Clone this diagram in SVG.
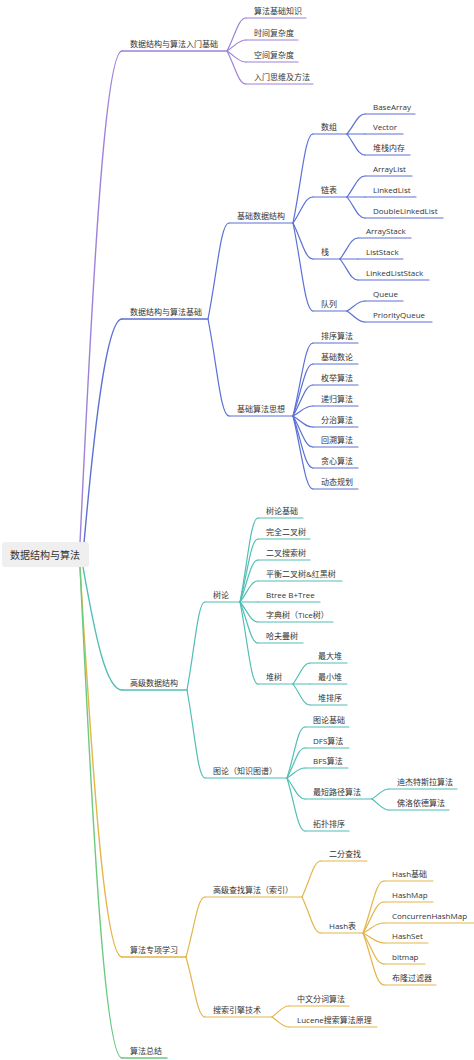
<svg xmlns="http://www.w3.org/2000/svg" width="474" height="1060" viewBox="0 0 474 1060">
<style>
text{font-family:"Open Sans","Noto Sans CJK SC",sans-serif;font-size:8px;fill:#333}
.root{font-size:10px}
path,line{fill:none;stroke-width:1.2;stroke-linecap:round}
.l1{stroke-width:1.4}
.p{stroke:#9d82d9}.b{stroke:#5c70d6}.tl{stroke:#52beb6}.g{stroke:#e3b54a}.gr{stroke:#6cc980}
</style>
<rect width="474" height="1060" fill="#fff"/>
<g id="connectors">
<path class="p l1" d="M80,543 C93,272 105,51 122,51"/>
<path class="b l1" d="M84,543 C95,420 107,319 122,319"/>
<path class="tl l1" d="M83,567 C95,635 106,690 122,690"/>
<path class="g l1" d="M80,567 C93,782 105,957 122,957"/>
<path class="gr l1" d="M80,567 C93,837 105,1058 122,1058"/>
<path class="p" d="M227,51 C235.6,34.5 238.4,18 246,18"/>
<path class="p" d="M227,51 C235.6,45.5 238.4,40 246,40"/>
<path class="p" d="M227,51 C235.6,56.5 238.4,62 246,62"/>
<path class="p" d="M227,51 C235.6,67.5 238.4,84 246,84"/>
<path class="b" d="M208,319 C217.5,271 220.6,223 229,223"/>
<path class="b" d="M208,319 C217.5,367.5 220.6,416 229,416"/>
<path class="b" d="M293,223 C302,178.5 305,134 313,134"/>
<path class="b" d="M293,223 C302,210 305,197 313,197"/>
<path class="b" d="M293,223 C302,241 305,259 313,259"/>
<path class="b" d="M293,223 C302,267 305,311 313,311"/>
<path class="b" d="M347,134 C355.1,124 357.8,114 365,114"/>
<path class="b" d="M347,134 L365,134"/>
<path class="b" d="M347,134 C355.1,144.5 357.8,155 365,155"/>
<path class="b" d="M347,197 C355.1,186.5 357.8,176 365,176"/>
<path class="b" d="M347,197 L365,197"/>
<path class="b" d="M347,197 C355.1,207.5 357.8,218 365,218"/>
<path class="b" d="M340,259 C348.1,248.5 350.8,238 358,238"/>
<path class="b" d="M340,259 L358,259"/>
<path class="b" d="M340,259 C348.1,269.5 350.8,280 358,280"/>
<path class="b" d="M347,311 C355.1,306 357.8,301 365,301"/>
<path class="b" d="M347,311 C355.1,316.5 357.8,322 365,322"/>
<path class="b" d="M293,416 C302,379.5 305,343 313,343"/>
<path class="b" d="M293,416 C302,390 305,364 313,364"/>
<path class="b" d="M293,416 C302,400.5 305,385 313,385"/>
<path class="b" d="M293,416 C302,411 305,406 313,406"/>
<path class="b" d="M293,416 C302,421.5 305,427 313,427"/>
<path class="b" d="M293,416 C302,431.5 305,447 313,447"/>
<path class="b" d="M293,416 C302,442 305,468 313,468"/>
<path class="b" d="M293,416 C302,452.5 305,489 313,489"/>
<path class="tl" d="M187,690 C195.1,646 197.8,602 205,602"/>
<path class="tl" d="M187,690 C195.1,734 197.8,778 205,778"/>
<path class="tl" d="M240,602 C248.1,560 250.8,518 258,518"/>
<path class="tl" d="M240,602 C248.1,570.5 250.8,539 258,539"/>
<path class="tl" d="M240,602 C248.1,581 250.8,560 258,560"/>
<path class="tl" d="M240,602 C248.1,591.5 250.8,581 258,581"/>
<path class="tl" d="M240,602 L258,602"/>
<path class="tl" d="M240,602 C248.1,612 250.8,622 258,622"/>
<path class="tl" d="M240,602 C248.1,622.5 250.8,643 258,643"/>
<path class="tl" d="M240,602 C248.1,643 250.8,684 258,684"/>
<path class="tl" d="M293,684 C300.7,673.5 303.2,663 310,663"/>
<path class="tl" d="M293,684 L310,684"/>
<path class="tl" d="M293,684 C300.7,694.5 303.2,705 310,705"/>
<path class="tl" d="M287,778 C295.1,752.5 297.8,727 305,727"/>
<path class="tl" d="M287,778 C295.1,763 297.8,748 305,748"/>
<path class="tl" d="M287,778 C295.1,773 297.8,768 305,768"/>
<path class="tl" d="M287,778 C295.1,788.5 297.8,799 305,799"/>
<path class="tl" d="M287,778 C295.1,804.5 297.8,831 305,831"/>
<path class="tl" d="M372,799 C379.7,794 382.2,789 389,789"/>
<path class="tl" d="M372,799 C379.7,804.5 382.2,810 389,810"/>
<path class="g" d="M186,957 C194.6,927 197.4,897 205,897"/>
<path class="g" d="M186,957 C194.6,987 197.4,1017 205,1017"/>
<path class="g" d="M302,897 C310.6,879 313.4,861 321,861"/>
<path class="g" d="M302,897 C310.6,915 313.4,933 321,933"/>
<path class="g" d="M363,933 C372.5,907 375.6,881 384,881"/>
<path class="g" d="M363,933 C372.5,917.5 375.6,902 384,902"/>
<path class="g" d="M363,933 C372.5,928 375.6,923 384,923"/>
<path class="g" d="M363,933 C372.5,938 375.6,943 384,943"/>
<path class="g" d="M363,933 C372.5,948.5 375.6,964 384,964"/>
<path class="g" d="M363,933 C372.5,959 375.6,985 384,985"/>
<path class="g" d="M272,1017 C279.7,1011.5 282.2,1006 289,1006"/>
<path class="g" d="M272,1017 C279.7,1022 282.2,1027 289,1027"/>
</g>
<g id="root"><rect x="2" y="542" width="87" height="25" rx="3" fill="#efefef"/><text class="root" x="10" y="558.5">数据结构与算法</text></g>
<g id="n1"><line class="p l1" x1="122" y1="51" x2="227" y2="51"/><text x="130" y="46.5">数据结构与算法入门基础</text></g>
<g id="n1a"><line class="p" x1="246" y1="18" x2="306" y2="18"/><text x="254" y="13.5">算法基础知识</text></g>
<g id="n1b"><line class="p" x1="246" y1="40" x2="298" y2="40"/><text x="254" y="35.5">时间复杂度</text></g>
<g id="n1c"><line class="p" x1="246" y1="62" x2="298" y2="62"/><text x="254" y="57.5">空间复杂度</text></g>
<g id="n1d"><line class="p" x1="246" y1="84" x2="313" y2="84"/><text x="254" y="79.5">入门思维及方法</text></g>
<g id="n2"><line class="b l1" x1="122" y1="319" x2="208" y2="319"/><text x="130" y="314.5">数据结构与算法基础</text></g>
<g id="n2a"><line class="b" x1="229" y1="223" x2="293" y2="223"/><text x="237" y="218.5">基础数据结构</text></g>
<g id="n2a1"><line class="b" x1="313" y1="134" x2="347" y2="134"/><text x="321" y="129.5">数组</text></g>
<g id="n2a1a"><line class="b" x1="365" y1="114" x2="415" y2="114"/><text x="373" y="109.5">BaseArray</text></g>
<g id="n2a1b"><line class="b" x1="365" y1="134" x2="403" y2="134"/><text x="373" y="129.5">Vector</text></g>
<g id="n2a1c"><line class="b" x1="365" y1="155" x2="410" y2="155"/><text x="373" y="150.5">堆栈内存</text></g>
<g id="n2a2"><line class="b" x1="313" y1="197" x2="347" y2="197"/><text x="321" y="192.5">链表</text></g>
<g id="n2a2a"><line class="b" x1="365" y1="176" x2="412" y2="176"/><text x="373" y="171.5">ArrayList</text></g>
<g id="n2a2b"><line class="b" x1="365" y1="197" x2="416" y2="197"/><text x="373" y="192.5">LinkedList</text></g>
<g id="n2a2c"><line class="b" x1="365" y1="218" x2="443" y2="218"/><text x="373" y="213.5">DoubleLinkedList</text></g>
<g id="n2a3"><line class="b" x1="313" y1="259" x2="340" y2="259"/><text x="321" y="254.5">栈</text></g>
<g id="n2a3a"><line class="b" x1="358" y1="238" x2="411" y2="238"/><text x="366" y="233.5">ArrayStack</text></g>
<g id="n2a3b"><line class="b" x1="358" y1="259" x2="403" y2="259"/><text x="366" y="254.5">ListStack</text></g>
<g id="n2a3c"><line class="b" x1="358" y1="280" x2="429" y2="280"/><text x="366" y="275.5">LinkedListStack</text></g>
<g id="n2a4"><line class="b" x1="313" y1="311" x2="347" y2="311"/><text x="321" y="306.5">队列</text></g>
<g id="n2a4a"><line class="b" x1="365" y1="301" x2="403" y2="301"/><text x="373" y="296.5">Queue</text></g>
<g id="n2a4b"><line class="b" x1="365" y1="322" x2="432" y2="322"/><text x="373" y="317.5">PriorityQueue</text></g>
<g id="n2b"><line class="b" x1="229" y1="416" x2="293" y2="416"/><text x="237" y="411.5">基础算法思想</text></g>
<g id="n2b1"><line class="b" x1="313" y1="343" x2="358" y2="343"/><text x="321" y="338.5">排序算法</text></g>
<g id="n2b2"><line class="b" x1="313" y1="364" x2="358" y2="364"/><text x="321" y="359.5">基础数论</text></g>
<g id="n2b3"><line class="b" x1="313" y1="385" x2="358" y2="385"/><text x="321" y="380.5">枚举算法</text></g>
<g id="n2b4"><line class="b" x1="313" y1="406" x2="358" y2="406"/><text x="321" y="401.5">递归算法</text></g>
<g id="n2b5"><line class="b" x1="313" y1="427" x2="358" y2="427"/><text x="321" y="422.5">分治算法</text></g>
<g id="n2b6"><line class="b" x1="313" y1="447" x2="358" y2="447"/><text x="321" y="442.5">回溯算法</text></g>
<g id="n2b7"><line class="b" x1="313" y1="468" x2="358" y2="468"/><text x="321" y="463.5">贪心算法</text></g>
<g id="n2b8"><line class="b" x1="313" y1="489" x2="358" y2="489"/><text x="321" y="484.5">动态规划</text></g>
<g id="n3"><line class="tl l1" x1="122" y1="690" x2="187" y2="690"/><text x="130" y="685.5">高级数据结构</text></g>
<g id="n3a"><line class="tl" x1="205" y1="602" x2="240" y2="602"/><text x="213" y="597.5">树论</text></g>
<g id="n3a1"><line class="tl" x1="258" y1="518" x2="303" y2="518"/><text x="266" y="513.5">树论基础</text></g>
<g id="n3a2"><line class="tl" x1="258" y1="539" x2="310" y2="539"/><text x="266" y="534.5">完全二叉树</text></g>
<g id="n3a3"><line class="tl" x1="258" y1="560" x2="310" y2="560"/><text x="266" y="555.5">二叉搜索树</text></g>
<g id="n3a4"><line class="tl" x1="258" y1="581" x2="342" y2="581"/><text x="266" y="576.5">平衡二叉树&amp;红黑树</text></g>
<g id="n3a5"><line class="tl" x1="258" y1="602" x2="320" y2="602"/><text x="266" y="597.5">Btree B+Tree</text></g>
<g id="n3a6"><line class="tl" x1="258" y1="622" x2="333" y2="622"/><text x="266" y="617.5">字典树（Tice树）</text></g>
<g id="n3a7"><line class="tl" x1="258" y1="643" x2="303" y2="643"/><text x="266" y="638.5">哈夫曼树</text></g>
<g id="n3a8"><line class="tl" x1="258" y1="684" x2="293" y2="684"/><text x="266" y="679.5">堆树</text></g>
<g id="n3a8a"><line class="tl" x1="310" y1="663" x2="347" y2="663"/><text x="318" y="658.5">最大堆</text></g>
<g id="n3a8b"><line class="tl" x1="310" y1="684" x2="347" y2="684"/><text x="318" y="679.5">最小堆</text></g>
<g id="n3a8c"><line class="tl" x1="310" y1="705" x2="347" y2="705"/><text x="318" y="700.5">堆排序</text></g>
<g id="n3b"><line class="tl" x1="205" y1="778" x2="287" y2="778"/><text x="213" y="773.5">图论（知识图谱）</text></g>
<g id="n3b1"><line class="tl" x1="305" y1="727" x2="349" y2="727"/><text x="313" y="722.5">图论基础</text></g>
<g id="n3b2"><line class="tl" x1="305" y1="748" x2="349" y2="748"/><text x="313" y="743.5">DFS算法</text></g>
<g id="n3b3"><line class="tl" x1="305" y1="768" x2="348" y2="768"/><text x="313" y="763.5">BFS算法</text></g>
<g id="n3b4"><line class="tl" x1="305" y1="799" x2="372" y2="799"/><text x="313" y="794.5">最短路径算法</text></g>
<g id="n3b4a"><line class="tl" x1="389" y1="789" x2="457" y2="789"/><text x="397" y="784.5">迪杰特斯拉算法</text></g>
<g id="n3b4b"><line class="tl" x1="389" y1="810" x2="449" y2="810"/><text x="397" y="805.5">佛洛依德算法</text></g>
<g id="n3b5"><line class="tl" x1="305" y1="831" x2="349" y2="831"/><text x="313" y="826.5">拓扑排序</text></g>
<g id="n4"><line class="g l1" x1="122" y1="957" x2="186" y2="957"/><text x="130" y="952.5">算法专项学习</text></g>
<g id="n4a"><line class="g" x1="205" y1="897" x2="302" y2="897"/><text x="213" y="892.5">高级查找算法（索引）</text></g>
<g id="n4a1"><line class="g" x1="321" y1="861" x2="367" y2="861"/><text x="329" y="856.5">二分查找</text></g>
<g id="n4a2"><line class="g" x1="321" y1="933" x2="363" y2="933"/><text x="329" y="928.5">Hash表</text></g>
<g id="n4a2a"><line class="g" x1="384" y1="881" x2="433" y2="881"/><text x="392" y="876.5">Hash基础</text></g>
<g id="n4a2b"><line class="g" x1="384" y1="902" x2="433" y2="902"/><text x="392" y="897.5">HashMap</text></g>
<g id="n4a2c"><line class="g" x1="384" y1="923" x2="474" y2="923"/><text x="392" y="918.5">ConcurrenHashMap</text></g>
<g id="n4a2d"><line class="g" x1="384" y1="943" x2="428" y2="943"/><text x="392" y="938.5">HashSet</text></g>
<g id="n4a2e"><line class="g" x1="384" y1="964" x2="425" y2="964"/><text x="392" y="959.5">bitmap</text></g>
<g id="n4a2f"><line class="g" x1="384" y1="985" x2="436" y2="985"/><text x="392" y="980.5">布隆过滤器</text></g>
<g id="n4b"><line class="g" x1="205" y1="1017" x2="272" y2="1017"/><text x="213" y="1012.5">搜索引擎技术</text></g>
<g id="n4b1"><line class="g" x1="289" y1="1006" x2="349" y2="1006"/><text x="297" y="1001.5">中文分词算法</text></g>
<g id="n4b2"><line class="g" x1="289" y1="1027" x2="377" y2="1027"/><text x="297" y="1022.5">Lucene搜索算法原理</text></g>
<g id="n5"><line class="gr l1" x1="122" y1="1058" x2="167" y2="1058"/><text x="130" y="1053.5">算法总结</text></g>
</svg>
